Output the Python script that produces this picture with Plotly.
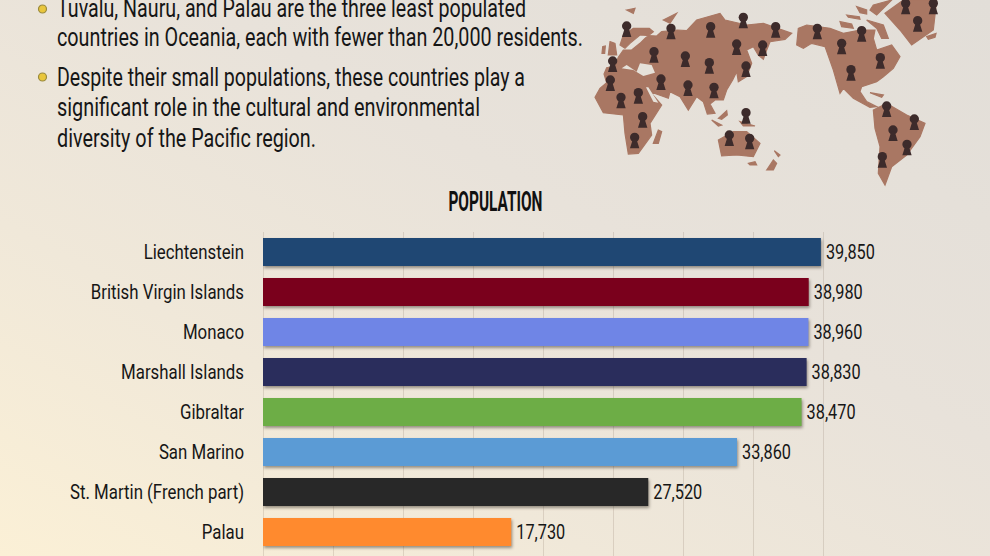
import base64
import plotly.graph_objects as go

# ---- data ----
countries = ["Liechtenstein", "British Virgin Islands", "Monaco", "Marshall Islands",
             "Gibraltar", "San Marino", "St. Martin (French part)", "Palau"]
population = [39850, 38980, 38960, 38830, 38470, 33860, 27520, 17730]
bar_colors = ["#1f4773", "#7a001c", "#6f85e6", "#2a2d5c", "#6dad46", "#5b9bd5", "#282828", "#ff8a2e"]
chart_title = "POPULATION"
insight_lines = [
    "Tuvalu, Nauru, and Palau are the three least populated",
    "countries in Oceania, each with fewer than 20,000 residents.",
    "Despite their small populations, these countries play a",
    "significant role in the cultural and environmental",
    "diversity of the Pacific region.",
]

# ---- page geometry ----
W, H = 990, 556
L, R, T, B = 263, 893, 232, 556
FONT = "Roboto"
INK = "#161616"


def px(x):
    return (x - L) / (R - L)


def py(y):
    return (B - y) / (B - T)


def zoom_path(points):
    # decorative map outline, traced in 3x picture coordinates
    pts = [(px(590 + a / 3), py(b / 3)) for a, b in points]
    return "M" + " L".join(f"{a:.4f},{b:.4f}" for a, b in pts) + " Z"


land = [
    [(15,292),(30,265),(50,248),(42,222),(50,203),(75,198),(85,172),(100,150),(125,150),(150,130),(165,115),(190,95),(178,85),(130,85),(100,105),(90,135),(105,145),(120,130),(150,105),(200,108),(215,95),(262,90),(290,92),(320,60),(390,40),(405,60),(470,75),(520,70),(605,100),(585,118),(540,125),(530,150),(520,178),(505,165),(490,140),(470,150),(485,190),(470,230),(445,245),(440,215),(428,240),(410,270),(400,300),(375,300),(360,312),(375,340),(352,342),(340,305),(320,290),(295,330),(270,290),(240,275),(235,295),(180,275),(215,315),(180,370),(185,405),(145,460),(115,462),(105,400),(100,345),(40,338)],
    [(620,135),(625,85),(650,75),(720,85),(760,100),(810,90),(855,90),(850,115),(860,150),(905,135),(930,170),(910,205),(880,230),(860,245),(815,260),(810,275),(830,305),(860,320),(840,322),(790,295),(760,265),(750,280),(730,210),(705,140),(665,130),(640,145)],
    [(850,330),(890,310),(950,345),(1005,370),(990,410),(950,465),(905,500),(885,555),(865,520),(870,440),(855,385)],
    [(885,40),(940,0),(1040,0),(1030,90),(965,135),(930,90)],
    [(385,420),(430,395),(470,395),(510,430),(490,470),(440,465),(395,468)],
    [(750,65),(785,72),(790,85),(755,80)], [(770,45),(808,50),(810,58),(775,52)],
    [(800,20),(830,30),(830,42),(810,38)], [(830,60),(880,75),(895,115),(875,115),(860,85)],
    [(850,15),(905,0),(860,45),(840,30)], [(1010,110),(1038,100),(1035,112),(1015,118)],
    [(190,430),(205,390),(215,395),(205,430)], [(530,510),(550,480),(560,490),(550,510)],
    [(475,490),(495,485),(500,495),(480,495)], [(553,452),(570,465),(565,470)],
    [(385,355),(410,332),(412,345),(395,358)], [(365,360),(395,375),(385,378)],
    [(450,365),(495,378),(460,378)], [(110,30),(135,25),(130,40)],
    [(38,140),(46,138),(44,160),(36,160)], [(60,125),(75,130),(80,165),(55,165)],
    [(220,60),(260,40),(240,70)], [(840,278),(880,285),(875,292)],
]
holes = [
    [(95,205),(130,210),(160,228),(195,218),(185,195),(150,190),(140,215),(110,195)],
    [(168,262),(175,262),(205,308),(190,305)],
]
pins = [(110,78),(243,85),(362,80),(460,52),(557,80),(682,85),(815,92),(755,130),(440,132),
        (518,135),(192,155),(286,168),(358,188),(468,198),(68,183),(61,240),(213,237),(294,255),
        (372,262),(93,292),(145,278),(158,350),(134,412),(468,338),(418,405),(479,415),(890,318),
        (973,357),(909,390),(951,433),(877,470),(871,173),(783,209),(947,10),(983,62),(1030,10)]

shapes = []
shapes.append(dict(type="path", xref="paper", yref="paper", layer="below",
                   line=dict(color="#a97763", width=1.2),
                   fillcolor="#a97763", path=" ".join(zoom_path(p) for p in land)))
shapes.append(dict(type="path", xref="paper", yref="paper", layer="below", line_width=0,
                   fillcolor="#e6e1d9", path=" ".join(zoom_path(p) for p in holes)))
for a, b in pins:
    shapes.append(dict(type="circle", xref="paper", yref="paper", layer="below", line_width=0,
                       fillcolor="#3d2b2b", x0=px(590 + (a - 14) / 3), x1=px(590 + (a + 14) / 3),
                       y0=py((b + 14) / 3), y1=py((b - 14) / 3)))
shapes.append(dict(type="path", xref="paper", yref="paper", layer="below", line_width=0,
                   fillcolor="#3d2b2b",
                   path=" ".join(zoom_path([(a - 5, b + 4), (a + 5, b + 4), (a + 14, b + 33), (a - 14, b + 33)])
                                 for a, b in pins)))
for cy in (9, 77):
    shapes.append(dict(type="circle", xref="paper", yref="paper", layer="above",
                       line=dict(color="#9a8a3e", width=1.2), fillcolor="#e9c63c",
                       x0=px(38.5), x1=px(46.5), y0=py(cy + 4), y1=py(cy - 4)))

svg = f'''<svg xmlns="http://www.w3.org/2000/svg" width="{W}" height="{H}">
<defs><linearGradient id="g" x1="1" y1="0" x2="0" y2="1">
<stop offset="0" stop-color="#e2ded8"/><stop offset="0.4" stop-color="#e8e2da"/>
<stop offset="0.7" stop-color="#f0e8d9"/><stop offset="1" stop-color="#fbf0d6"/>
</linearGradient></defs><rect width="{W}" height="{H}" fill="url(#g)"/></svg>'''
bg = "data:image/svg+xml;base64," + base64.b64encode(svg.encode()).decode()

fig = go.Figure(go.Bar(
    y=countries, x=population, orientation="h", width=0.7,
    marker=dict(color=bar_colors, line_width=0),
    text=[f"{v:,}" for v in population], textposition="outside", cliponaxis=False,
    textfont=dict(family=FONT, size=21, color=INK), hoverinfo="skip",
))

annotations = []
for text, cy in zip(insight_lines, (8, 37, 77, 107, 138)):
    annotations.append(dict(text=text, xref="paper", yref="paper", x=px(57), y=py(cy),
                            xanchor="left", yanchor="middle", showarrow=False,
                            font=dict(family=FONT, size=26, color=INK)))
annotations.append(dict(text=f"<b>{chart_title}</b>", xref="paper", yref="paper", x=px(495), y=py(202),
                        xanchor="center", yanchor="middle", showarrow=False,
                        font=dict(family=FONT, size=27, color="#111111")))

fig.update_layout(
    width=W, height=H, margin=dict(l=L, r=W - R, t=T, b=H - B, pad=0),
    paper_bgcolor="#ece6da", plot_bgcolor="rgba(0,0,0,0)", showlegend=False,
    bargap=0.3, annotations=annotations, shapes=shapes,
    images=[dict(source=bg, xref="paper", yref="paper", x=px(0), y=py(0), sizex=W / (R - L),
                 sizey=H / (B - T), xanchor="left", yanchor="top", sizing="stretch", layer="below")],
    xaxis=dict(range=[0, 45000], dtick=5000, showticklabels=False, ticks="",
               showgrid=True, gridcolor="rgba(130,110,95,0.20)", gridwidth=1,
               zeroline=True, zerolinecolor="rgba(130,110,95,0.20)", zerolinewidth=1, showline=False),
    yaxis=dict(range=[7.6, -0.5], categoryorder="array", categoryarray=countries, ticks="",
               ticklabelstandoff=18, showgrid=False, zeroline=False, showline=False,
               tickfont=dict(family=FONT, size=20, color=INK)),
)

post = """
document.body.style.margin='0';
document.documentElement.style.overflow='hidden';
document.querySelectorAll('.bars .point path').forEach(function(p){
  p.style.filter='drop-shadow(1px 2px 1.5px rgba(40,30,20,0.45))';
});
// the reference face is condensed: narrow the installed face horizontally
function squeeze(nodes, refText, refWidth, leftAlign, shift){
  var arr=Array.from(nodes), ref=arr.find(function(t){return t.textContent===refText;});
  if(!ref) return;
  var k=refWidth/ref.getComputedTextLength();
  arr.forEach(function(t){
    var len=t.getComputedTextLength(), left=t.getBBox().x;
    if(leftAlign){ t.setAttribute('text-anchor','start'); t.setAttribute('x',left+shift); }
    t.setAttribute('textLength',len*k);
    t.setAttribute('lengthAdjust','spacingAndGlyphs');
  });
}
var anns=Array.from(document.querySelectorAll('.annotation-text'));
var lineWidths=[469,526,468,423,259];
anns.filter(function(t){return t.textContent!=='POPULATION';}).forEach(function(t,i){
  squeeze([t],t.textContent,lineWidths[i],true,-2);
});
squeeze(anns.filter(function(t){return t.textContent==='POPULATION';}),'POPULATION',94,false,0);
squeeze(document.querySelectorAll('.ytick text'),'St. Martin (French part)',174,false,0);
squeeze(document.querySelectorAll('.bartext'),'39,850',49,true,2);
"""
fig.write_html("out.html", post_script=post, config=dict(displayModeBar=False))
